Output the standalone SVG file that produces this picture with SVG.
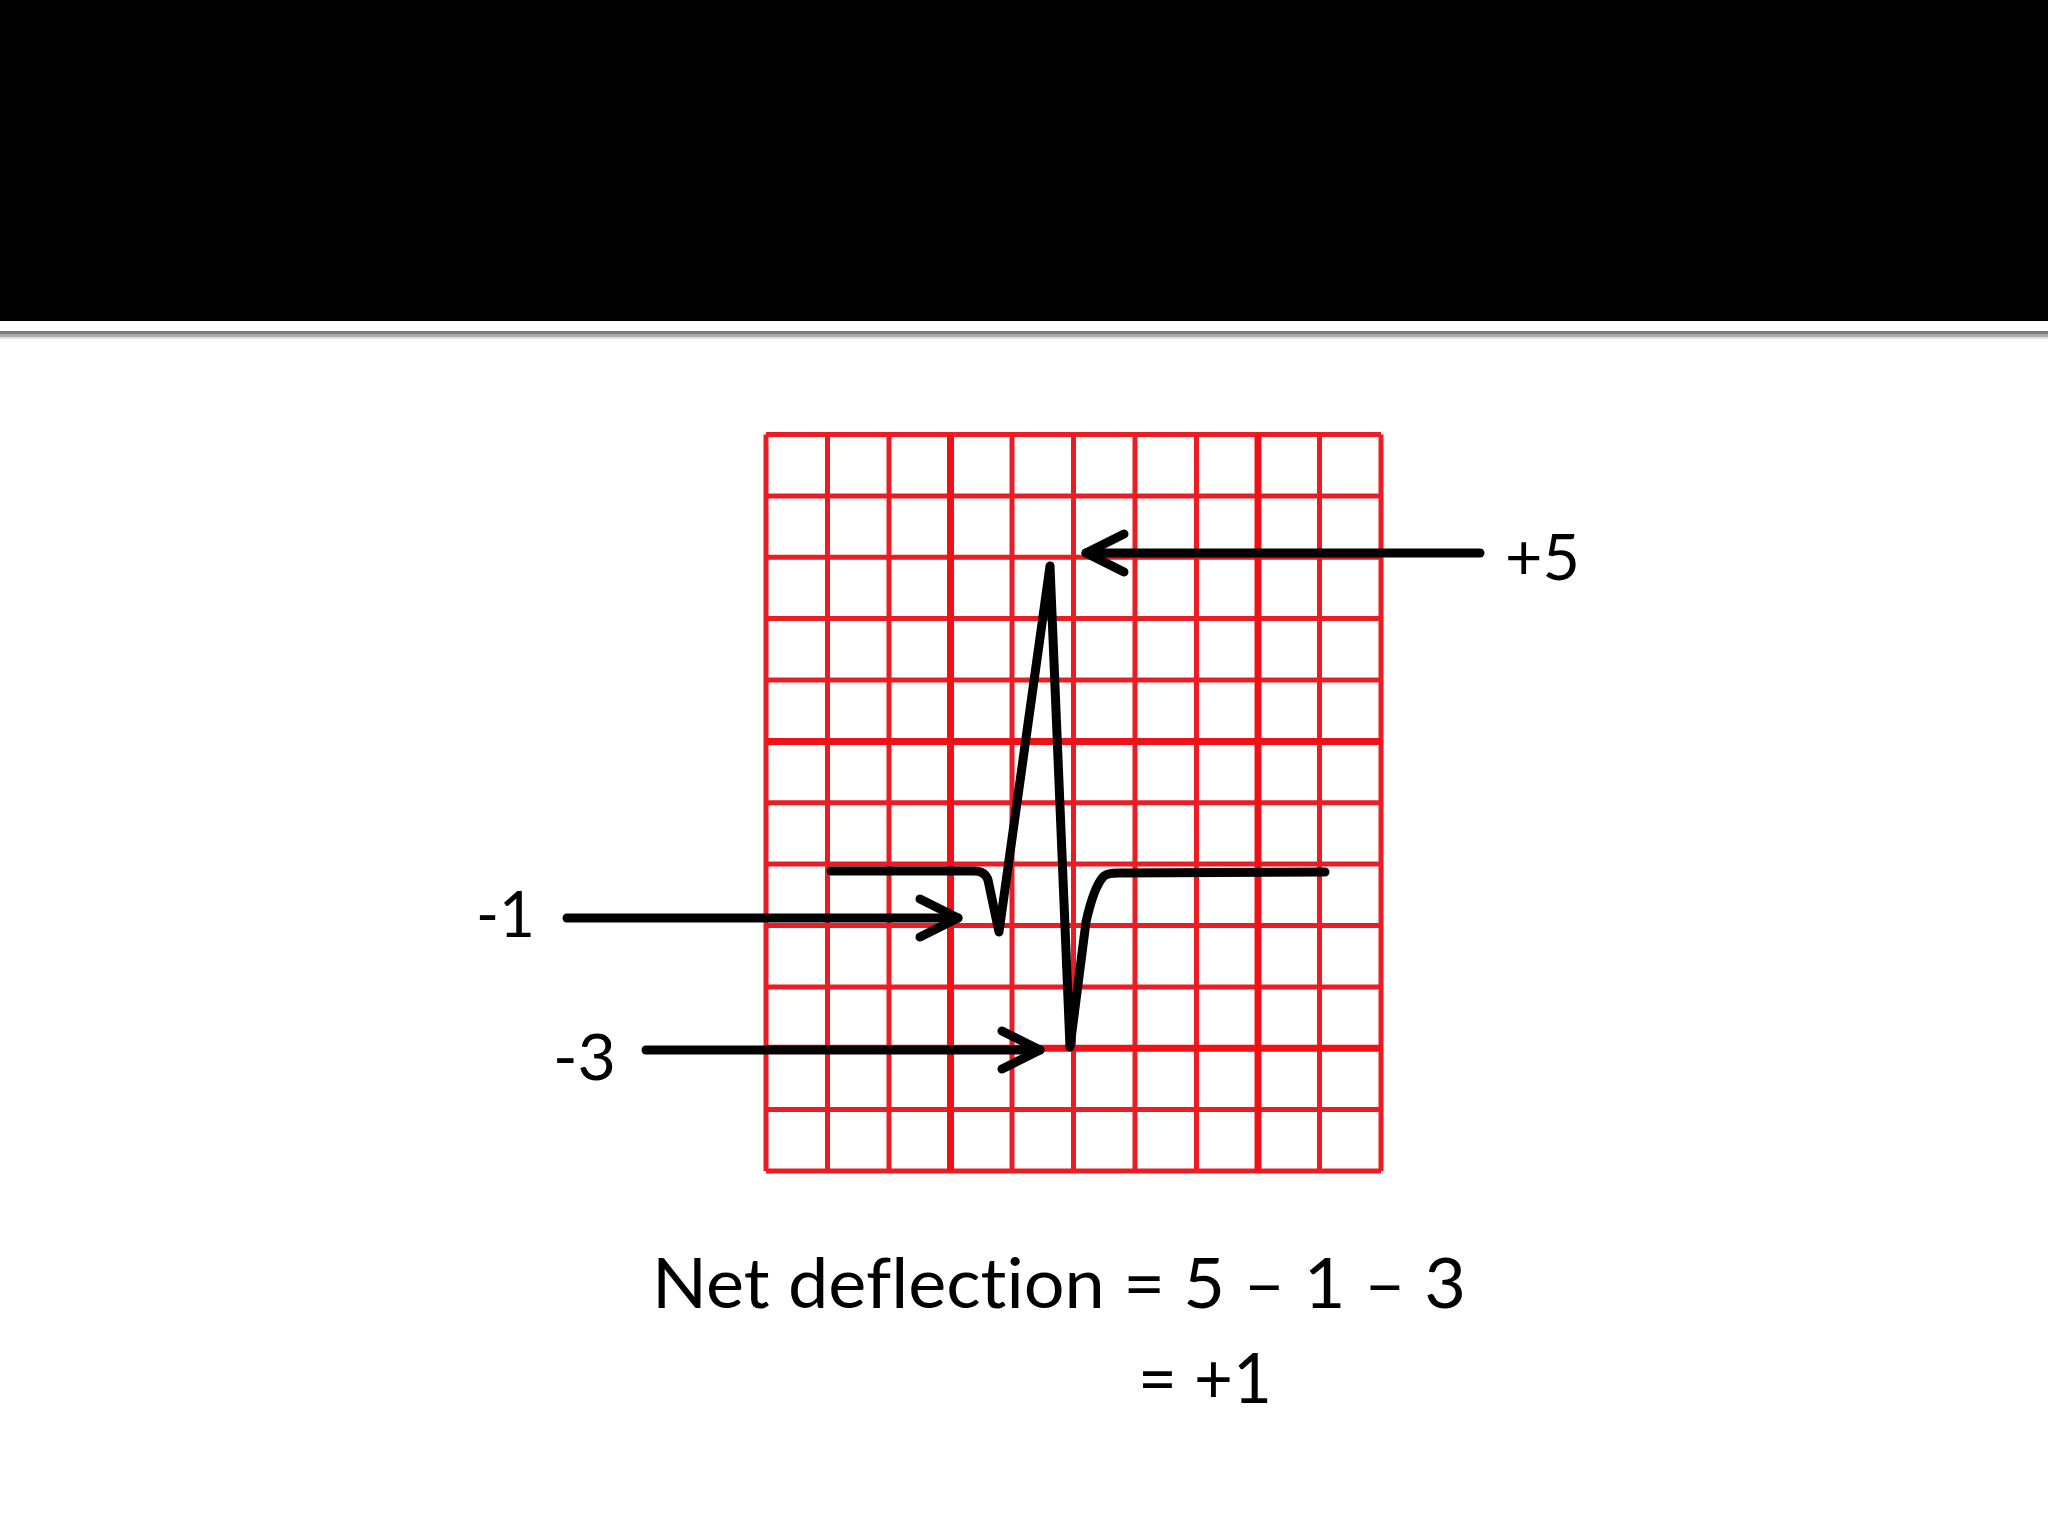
<svg xmlns="http://www.w3.org/2000/svg" width="2048" height="1536" viewBox="0 0 2048 1536">
<style>
.g{stroke:#ec1c24;stroke-width:5;fill:none}
.gt{stroke:#f01018;stroke-width:7;fill:none}
.trace{fill:none;stroke:#000;stroke-width:9;stroke-linejoin:round;stroke-linecap:round}
.arr{fill:none;stroke:#000;stroke-width:9;stroke-linecap:round}
.t{font-family:Lato,"Open Sans","Liberation Sans",sans-serif;fill:#000;font-variant-ligatures:none}
</style>
<defs>
<marker id="chev" markerUnits="userSpaceOnUse" markerWidth="70" markerHeight="70" viewBox="-50 -35 70 70" refX="0" refY="0" orient="auto" overflow="visible">
<path d="M-38,-19 L0,0 L-38,19" fill="none" stroke="#000" stroke-width="9" stroke-linecap="round" stroke-linejoin="round"/>
</marker>
</defs>
<rect width="2048" height="1536" fill="#fff"/>
<g id="header">
<rect x="0" y="0" width="2048" height="321" fill="#000"/>
<rect x="0" y="331" width="2048" height="3" fill="#7a7a7a"/>
<rect x="0" y="334" width="2048" height="3" fill="#ababab"/>
<rect x="0" y="337" width="2048" height="2" fill="#e2e2e2"/>
</g>
<g id="grid">
<path class="g" d="M766,434.5V1171M827.5,434.5V1171M889,434.5V1171M1012,434.5V1171M1073.5,434.5V1171M1135,434.5V1171M1196.5,434.5V1171M1319.5,434.5V1171M1381,434.5V1171"/>
<path class="g" d="M766,434.5H1381M766,495.9H1381M766,557.3H1381M766,618.6H1381M766,680H1381M766,802.8H1381M766,864.1H1381M766,925.5H1381M766,986.9H1381M766,1109.6H1381M766,1171H1381"/>
<path class="gt" d="M950.5,434.5V1171M1258,434.5V1171M766,741.4H1381M766,1048.3H1381"/>
</g>
<g id="ecg-trace">
<path class="trace" d="M831,871 L974,871 Q985,871 988,880 L999,932 L1050,566 L1070,1047 L1086,922 Q1094,886 1104,876 Q1108,873 1118,873 L1325,872"/>
</g>
<g id="connectors">
<path class="arr" d="M1480,553 L1086,553" marker-end="url(#chev)"/>
<path class="arr" d="M567,918 L958,918" marker-end="url(#chev)"/>
<path class="arr" d="M646,1050 L1040,1050" marker-end="url(#chev)"/>
</g>
<g id="label-plus5"><text class="t" x="1505" y="580" font-size="64" textLength="75" lengthAdjust="spacingAndGlyphs">+5</text></g>
<g id="label-minus1"><text class="t" x="476" y="937" font-size="64" textLength="59" lengthAdjust="spacingAndGlyphs">-1</text></g>
<g id="label-minus3"><text class="t" x="553" y="1080" font-size="64" textLength="63" lengthAdjust="spacingAndGlyphs">-3</text></g>
<g id="formula">
<text class="t" x="652" y="1308" font-size="70" textLength="814" lengthAdjust="spacingAndGlyphs">Net deflection = 5 – 1 – 3</text>
<text class="t" x="1138" y="1403" font-size="70" textLength="134" lengthAdjust="spacingAndGlyphs">= +1</text>
</g>
</svg>
